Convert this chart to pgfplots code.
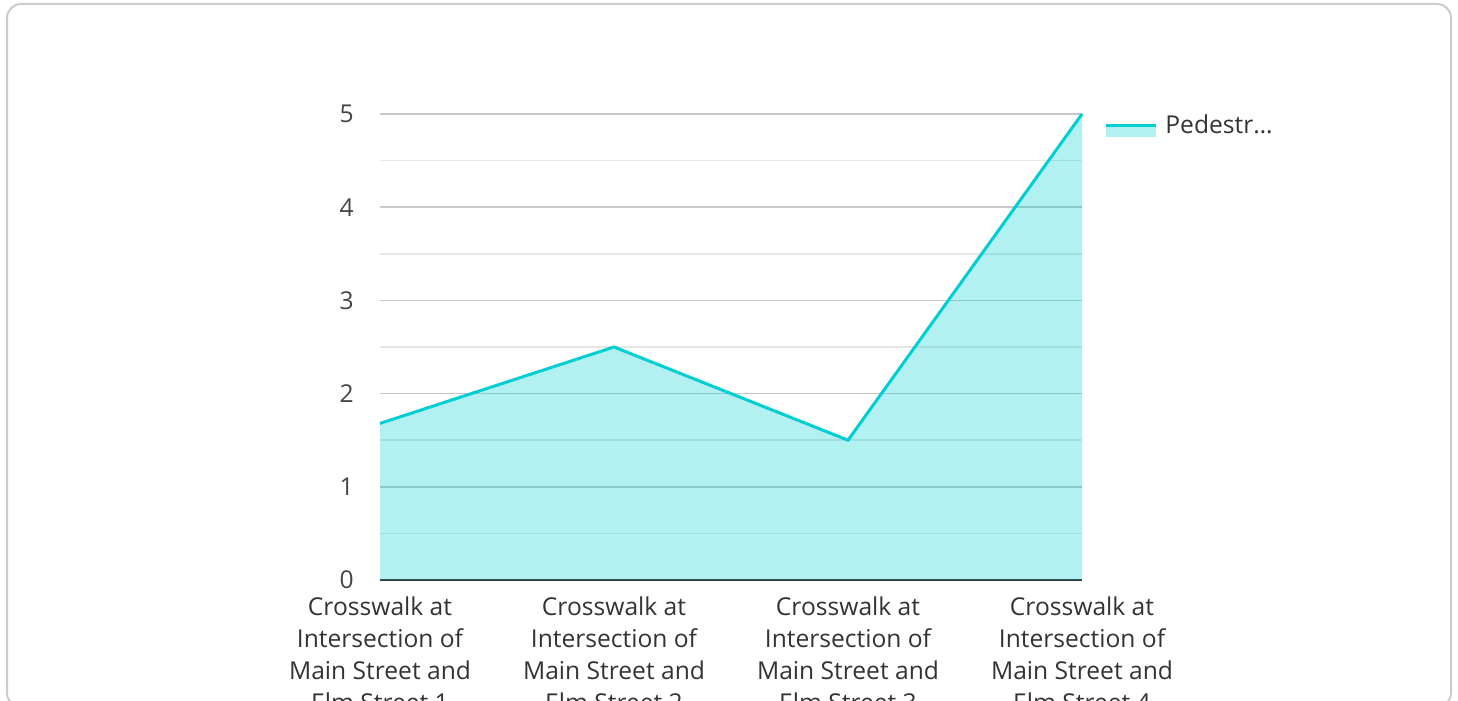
\documentclass[border=0pt]{standalone}
\usepackage{fontspec}
\setmainfont{Open Sans}
\usepackage{pgfplots}
\pgfplotsset{compat=1.18}
\definecolor{cline}{RGB}{0,206,209}
\definecolor{gridmaj}{RGB}{200,200,200}
\definecolor{gridmin}{RGB}{230,230,230}
\definecolor{txt}{RGB}{68,68,68}
\definecolor{xtxt}{RGB}{51,51,51}
\definecolor{framec}{RGB}{204,204,204}
\begin{document}
\begin{tikzpicture}[x=0.5pt,y=0.5pt]
\useasboundingbox (0,0) rectangle (1458,701);
\clip (0,0) rectangle (1458,701);
\draw[framec, line width=1pt, rounded corners=7pt] (7,-6) rectangle (1451,697);
\begin{axis}[
  at={(190pt,60.5pt)}, anchor=south west,
  scale only axis, width=351pt, height=233pt,
  xmin=0, xmax=3, ymin=0, ymax=5,
  clip=false,
  /pgf/number format/assume math mode=true,
  axis x line=bottom, axis y line=left,
  x axis line style={-, draw=xtxt, line width=1pt},
  y axis line style={draw=none},
  major tick length=0pt, minor tick length=0pt,
  xtick={0,1,2,3},
  xticklabels={Crosswalk at\\Intersection of\\Main Street and\\Elm Street 1,
               Crosswalk at\\Intersection of\\Main Street and\\Elm Street 2,
               Crosswalk at\\Intersection of\\Main Street and\\Elm Street 3,
               Crosswalk at\\Intersection of\\Main Street and\\Elm Street 4},
  xticklabel style={align=center, text=xtxt, font=\fontsize{12.3}{16}\selectfont, inner sep=0pt, yshift=-8pt, anchor=north},
  ytick={0,1,2,3,4,5},
  minor ytick={0.5,1.5,2.5,3.5,4.5},
  yticklabel style={text=txt, font=\fontsize{12.3}{16}\selectfont, inner sep=0pt, xshift=-13pt, anchor=east},
  ymajorgrids, yminorgrids,
  major grid style={draw=gridmaj, line width=0.75pt},
  minor grid style={draw=gridmin, line width=0.75pt},
  legend style={at={(1,1)}, anchor=north west, xshift=11pt, yshift=2.5pt, draw=none, fill=none,
    inner sep=0pt, font=\fontsize{12.3}{16}\selectfont, text=xtxt,
    nodes={inner sep=2.5pt}},
]
\addlegendimage{legend image code/.code={
    \fill[fill=cline, fill opacity=0.3, draw=none] (0pt,-6pt) rectangle (25pt,0pt);
    \draw[draw=cline, line width=1.5pt] (0pt,0pt) -- (25pt,0pt);
  }}
\addlegendentry{\hspace{1.5pt}Pedestr…}
\addplot[draw=none, fill=cline, fill opacity=0.3, forget plot] coordinates {(0,1.68) (1,2.5) (2,1.5) (3,5)} \closedcycle;
\addplot[cline, line width=1.5pt, mark=none, forget plot] coordinates {(0,1.68) (1,2.5) (2,1.5) (3,5)};
\end{axis}
\end{tikzpicture}
\end{document}
